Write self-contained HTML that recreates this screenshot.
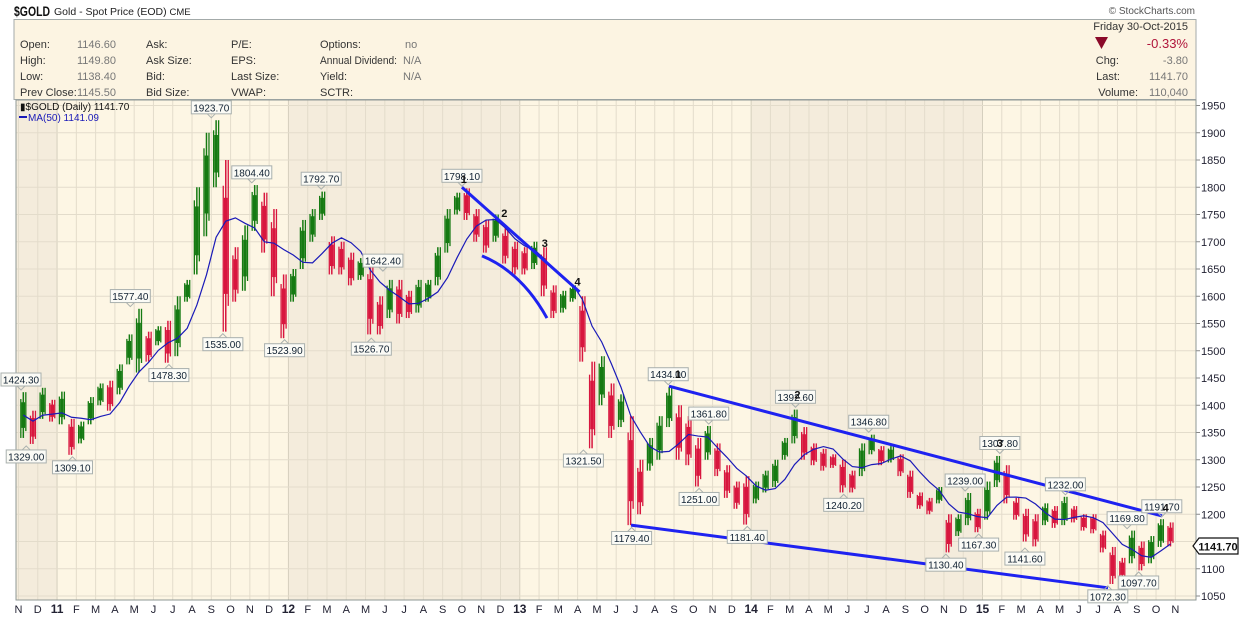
<!DOCTYPE html>
<html><head><meta charset="utf-8"><style>
body{margin:0;background:#fff;width:1240px;height:619px;overflow:hidden;font-family:"Liberation Sans",sans-serif}
svg text{font-family:"Liberation Sans",sans-serif}
</style></head><body>
<svg id="chart" width="1240" height="619" xmlns="http://www.w3.org/2000/svg">
<text x="14" y="16" font-size="14" font-weight="bold" fill="#111" textLength="36" lengthAdjust="spacingAndGlyphs">$GOLD</text>
<text x="54" y="15" font-size="10.5" fill="#222">Gold - Spot Price (EOD)  <tspan font-size="9.5">CME</tspan></text>
<text x="1195" y="14" font-size="10" fill="#555" text-anchor="end">© StockCharts.com</text>
<rect x="14" y="19.5" width="1182" height="80" fill="#fcf4e2" stroke="#a3aaa9"/>
<g font-size="11" fill="#333">
<text x="20" y="48">Open:</text><text x="77" y="48" fill="#777">1146.60</text>
<text x="20" y="64">High:</text><text x="77" y="64" fill="#777">1149.80</text>
<text x="20" y="80">Low:</text><text x="77" y="80" fill="#777">1138.40</text>
<text x="20" y="96">Prev Close:</text><text x="77" y="96" fill="#777">1145.50</text>
<text x="146" y="48">Ask:</text><text x="146" y="64">Ask Size:</text><text x="146" y="80">Bid:</text><text x="146" y="96">Bid Size:</text>
<text x="231" y="48">P/E:</text><text x="231" y="64">EPS:</text><text x="231" y="80">Last Size:</text><text x="231" y="96">VWAP:</text>
<text x="320" y="48">Options:</text><text x="320" y="64" textLength="77" lengthAdjust="spacingAndGlyphs">Annual Dividend:</text><text x="320" y="80">Yield:</text><text x="320" y="96">SCTR:</text>
<text x="405" y="48" fill="#777">no</text><text x="403" y="64" fill="#777">N/A</text><text x="403" y="80" fill="#777">N/A</text>
</g>
<g font-size="11" fill="#333" text-anchor="end">
<text x="1188" y="30">Friday  30-Oct-2015</text>
<polygon points="1095,37 1108,37 1101.5,49" fill="#8b0a2a"/>
<text x="1188" y="48" fill="#b0143a" font-size="13">-0.33%</text>
<text x="1119" y="64">Chg:</text><text x="1188" y="64" fill="#777">-3.80</text>
<text x="1120" y="80">Last:</text><text x="1188" y="80" fill="#777">1141.70</text>
<text x="1138" y="96">Volume:</text><text x="1188" y="96" fill="#777">110,040</text>
</g>
<g id="plot"></g>
</svg>
<script>
// Half-month periods from Nov 2010 (first half) to Oct 2015 (second half)
const highs = [1424,1390,1432,1410,1425,1375,1370,1415,1440,1445,1475,1530,1577,1535,1545,1555,1600,1630,1800,1900,1923,1850,1690,1730,1804,1790,1760,1640,1650,1740,1760,1792,1710,1700,1680,1670,1660,1600,1630,1630,1610,1630,1630,1690,1760,1790,1798,1760,1740,1750,1725,1700,1690,1700,1690,1620,1610,1620,1600,1480,1490,1440,1420,1380,1300,1340,1380,1434,1400,1380,1340,1362,1330,1290,1260,1270,1260,1280,1300,1340,1392,1360,1330,1320,1310,1300,1280,1330,1346,1325,1325,1310,1280,1240,1230,1250,1200,1200,1239,1210,1260,1307,1290,1230,1210,1200,1220,1215,1232,1215,1200,1200,1170,1140,1120,1170,1150,1160,1191,1185];
const lows  = [1340,1329,1375,1370,1365,1309,1330,1365,1400,1390,1420,1475,1460,1480,1510,1478,1490,1590,1640,1710,1800,1535,1590,1610,1720,1680,1600,1523,1590,1650,1700,1740,1640,1640,1620,1630,1530,1530,1560,1550,1560,1570,1590,1620,1680,1750,1740,1700,1680,1700,1660,1640,1640,1650,1600,1560,1570,1590,1480,1321,1400,1340,1360,1180,1200,1280,1300,1360,1300,1290,1251,1300,1270,1230,1210,1181,1220,1240,1250,1300,1330,1300,1290,1280,1285,1240,1240,1270,1310,1290,1295,1270,1230,1210,1200,1220,1130,1160,1180,1167,1190,1250,1220,1190,1150,1141,1180,1175,1180,1185,1170,1165,1130,1072,1080,1110,1097,1110,1140,1141];
const yTicks = [1050,1100,1150,1200,1250,1300,1350,1400,1450,1500,1550,1600,1650,1700,1750,1800,1850,1900,1950];
const monthLabels = ["N","D","11","F","M","A","M","J","J","A","S","O","N","D","12","F","M","A","M","J","J","A","S","O","N","D","13","F","M","A","M","J","J","A","S","O","N","D","14","F","M","A","M","J","J","A","S","O","N","D","15","F","M","A","M","J","J","A","S","O","N"];
const annMonths = [0.13,0.4,2.8,5.8,7.8,10.0,10.6,12.1,13.8,15.7,18.9,18.3,23.0,29.3,31.8,33.7,35.8,35.3,37.8,40.3,44.1,42.8,50.9,49.1,49.8,48.1,52.2,54.3,56.5,57.5,58.1,59.3];
const annValues = [1424.30,1329.00,1309.10,1577.40,1478.30,1923.70,1535.00,1804.40,1523.90,1792.70,1642.40,1526.70,1798.10,1321.50,1179.40,1434.00,1361.80,1251.00,1181.40,1392.60,1346.80,1240.20,1307.80,1239.00,1167.30,1130.40,1141.60,1232.00,1072.30,1169.80,1097.70,1191.70];
const annSide = ["h","l","l","h","l","h","l","h","l","h","h","l","h","l","l","h","h","l","l","h","h","l","h","h","l","l","l","h","l","h","l","h"];
const trendLines = [[23.0,1800,29.1,1608],[33.74,1435,59.31,1197],[31.77,1180,56.51,1065]];
const trendCurve = [24.04,1674,26.1,1644,27.41,1560];
const waveLabels = ["1","2","3","4","1","2","3","4"];
const waveMonths = [23.1,25.2,27.3,29.0,34.2,40.4,50.9,59.5];
const waveValues = [1808,1745,1690,1620,1450,1412,1323,1205];

const X0=18.5, XM=19.28, PL=16, PR=1196, PT=100, PB=600;
const x = m => X0 + m*XM;
const y = v => 596 - (v-1050)*0.545;
const NS="http://www.w3.org/2000/svg";
const g=document.getElementById('plot');
function el(t,a,p){const e=document.createElementNS(NS,t);for(const k in a)e.setAttribute(k,a[k]);(p||g).appendChild(e);return e;}

const bg=el('rect',{x:PL,y:PT,width:PR-PL,height:PB-PT,fill:'#fdf6e4'});


const yearStarts=[-2,2,14,26,38,50,62];
for(let i=0;i<6;i++){ if(i%2===0){
  const a=Math.max(PL,x(yearStarts[i])), b=Math.min(PR,x(yearStarts[i+1]));
  const r=el('rect',{x:a,y:PT,width:b-a,height:PB-PT,fill:'#f4ecdc'});
  
  
}}
for(let m=0;m<monthLabels.length;m++){
  const gx=x(m);
  const l=el('line',{x1:gx,x2:gx,y1:PT,y2:PB,stroke:(monthLabels[m].length>1?'#d5cfbe':'#e3dccb'),'stroke-width':1});
  
  
  const t=el('text',{x:gx,y:613,'font-size':(monthLabels[m].length>1?12:11),'font-weight':(monthLabels[m].length>1?'bold':'normal'),fill:'#223','text-anchor':'middle'});
  t.textContent=monthLabels[m];
  
  
}
yTicks.forEach(v=>{
  const l=el('line',{x1:PL,x2:PR,y1:y(v),y2:y(v),stroke:'#e3dccb'});
  
  
  el('line',{x1:PR,x2:PR+4,y1:y(v),y2:y(v),stroke:'#888'});
  const t=el('text',{x:PR+5,y:y(v)+4,'font-size':11,fill:'#223'});
  t.textContent=v;
  
  
});
const frame=el('rect',{x:PL,y:PT,width:PR-PL,height:PB-PT,fill:'none',stroke:'#8f9896'});



// price bars: thin wick over full range plus narrower body
const mids=highs.map((h,i)=>(h+lows[i])/2);
highs.forEach((h,i)=>{
  const m=i/2+0.25, up = i===0 ? true : mids[i]>=mids[i-1];
  const col=up?'#157a12':'#d8163e';
  const bx=x(m);
  const grp=el('g',{});
  
  
  el('line',{x1:bx-2.5,x2:bx-2.5,y1:y(h)+(y(lows[i])-y(h))*0.15,y2:y(lows[i]),stroke:col,'stroke-width':1.3},grp);
  el('line',{x1:bx,x2:bx,y1:y(h),y2:y(lows[i]),stroke:col,'stroke-width':1.5},grp);
  el('line',{x1:bx+2.5,x2:bx+2.5,y1:y(h),y2:y(lows[i])-(y(lows[i])-y(h))*0.15,stroke:col,'stroke-width':1.3},grp);
  const rng=y(lows[i])-y(h);
  el('rect',{x:bx-1.8,y:y(h)+rng*0.22,width:3.6,height:Math.max(1,rng*0.56),fill:col},grp);
});
let pts=[];
mids.forEach((v,i)=>{const s=mids.slice(Math.max(0,i-4),i+1);const a=s.reduce((p,c)=>p+c,0)/s.length;pts.push(x(i/2+0.25)+','+y(a));});
const ma=el('polyline',{points:pts.join(' '),fill:'none',stroke:'#1a1ab8','stroke-width':1.2});



trendLines.forEach(t=>{
  const l=el('line',{x1:x(t[0]),y1:y(t[1]),x2:x(t[2]),y2:y(t[3]),stroke:'#1e22f0','stroke-width':3});
  
  
});
const c=trendCurve;
const cp=el('path',{d:`M${x(c[0])},${y(c[1])} Q${x(c[2])},${y(c[3])} ${x(c[4])},${y(c[5])}`,fill:'none',stroke:'#1e22f0','stroke-width':3});



annValues.forEach((v,i)=>{
  const ax=x(annMonths[i]), ay=y(v), hi=annSide[i]==='h';
  const by= hi? ay-19 : ay+6;
  const grp=el('g',{});
  
  
  el('rect',{x:ax-20,y:by,width:40,height:13,fill:'#fbfbf6',stroke:'#a9b0ae'},grp);
  el('polyline',{points:hi?`${ax-4},${by+13} ${ax},${by+17} ${ax+4},${by+13}`:`${ax-4},${by} ${ax},${by-4} ${ax+4},${by}`,fill:'none',stroke:'#a9b0ae'},grp);
  const t=el('text',{x:ax,y:by+10.5,'font-size':10,fill:'#123','text-anchor':'middle'},grp);
  t.textContent=v.toFixed(2);
});
waveLabels.forEach((w,i)=>{
  const t=el('text',{x:x(waveMonths[i]),y:y(waveValues[i]),'font-size':11,'font-weight':'bold','font-family':'Liberation Serif',fill:'#111','text-anchor':'middle'});
  t.textContent=w;
  
  
});
const lg=el('g',{});


const t1=el('text',{x:20,y:110,'font-size':10,fill:'#111'},lg);t1.textContent='▮$GOLD (Daily) 1141.70';
el('line',{x1:19,x2:27,y1:117,y2:117,stroke:'#1a1ab8','stroke-width':2},lg);
const t2=el('text',{x:28,y:121,'font-size':10,fill:'#1a1ab8'},lg);t2.textContent='MA(50) 1141.09';
const tag=el('g',{});


const ly=y(1141.7);
el('polygon',{points:`${PR-3},${ly} ${PR+3},${ly-8} ${PR+42},${ly-8} ${PR+42},${ly+8} ${PR+3},${ly+8}`,fill:'#fff',stroke:'#111','stroke-width':1.2},tag);
const lt=el('text',{x:PR+22,y:ly+4.5,'font-size':11,'font-weight':'bold','text-anchor':'middle',fill:'#111'},tag);lt.textContent='1141.70';
</script>
</body></html>
